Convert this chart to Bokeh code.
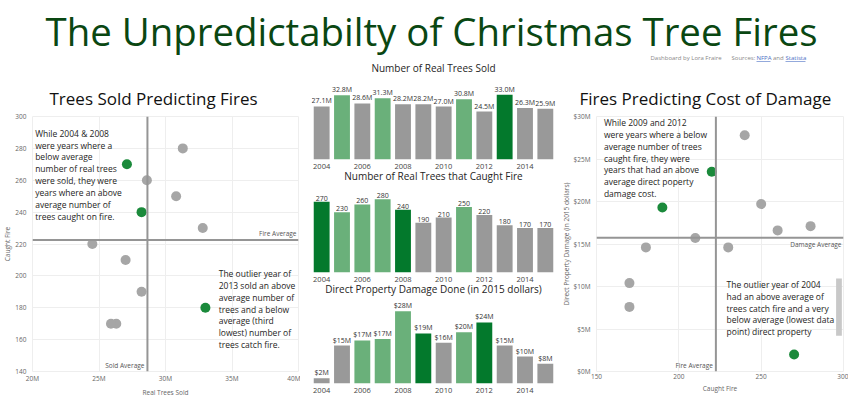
from bokeh.plotting import figure
from bokeh.models import (Range1d, FixedTicker, PrintfTickFormatter, Span, Label,
                          BoxAnnotation, ColumnDataSource)
from bokeh.layouts import column, row
from bokeh.core.properties import value
from bokeh.embed import file_html
from bokeh.resources import INLINE

# ---------------- data ----------------
years = [2004, 2005, 2006, 2007, 2008, 2009, 2010, 2011, 2012, 2013, 2014, 2015]
trees_sold_m = [27.1, 32.8, 28.6, 31.3, 28.2, 28.2, 27.0, 30.8, 24.5, 33.0, 26.3, 25.9]
trees_caught_fire = [270, 230, 260, 280, 240, 190, 210, 250, 220, 180, 170, 170]
damage_m = [2.0, 14.6, 16.6, 17.1, 27.8, 19.3, 15.7, 19.7, 23.5, 14.6, 10.4, 7.6]

sold_bar_shade = ["gray", "light", "gray", "light", "gray", "gray", "gray", "light", "gray", "dark", "gray", "gray"]
fire_bar_shade = ["dark", "light", "light", "light", "dark", "gray", "gray", "light", "gray", "gray", "gray", "gray"]
damage_bar_shade = ["gray", "gray", "light", "light", "light", "dark", "gray", "light", "dark", "gray", "gray", "gray"]

sold_fire_highlight = [2004, 2008, 2013]
fire_damage_highlight = [2004, 2009, 2012]

bar_year_ticks = [2004, 2006, 2008, 2010, 2012, 2014]
sold_ticks = [20, 25, 30, 35, 40]
fire_ticks_left = [140, 160, 180, 200, 220, 240, 260, 280, 300]
fire_ticks_right = [150, 200, 250, 300]
damage_ticks = [0, 5, 10, 15, 20, 25, 30]

# ---------------- style ----------------
FONT = "Open Sans"
GREEN_DARK = "#03792c"
GREEN_LIGHT = "#6ab07a"
GRAY_BAR = "#999999"
GREEN_PT = "#1b8a3b"
GRAY_PT = "#a6a6a6"
TITLE_GREEN = "#0a4712"
TEXT_DARK = "#252423"
AXIS_TXT = "#666666"
AVG_LINE = "#959595"
shade_color = {"dark": GREEN_DARK, "light": GREEN_LIGHT, "gray": GRAY_BAR}

sold_avg = sum(trees_sold_m) / len(trees_sold_m)
fire_avg = sum(trees_caught_fire) / len(trees_caught_fire)
damage_avg = sum(damage_m) / len(damage_m)


def style_axis(ax, size="6.5px", standoff=2, label_standoff=2):
    ax.axis_line_color = None
    ax.major_tick_line_color = None
    ax.minor_tick_line_color = None
    ax.major_tick_out = 0
    ax.major_tick_in = 0
    ax.minor_tick_out = 0
    ax.minor_tick_in = 0
    ax.major_label_text_font = FONT
    ax.major_label_text_font_size = size
    ax.major_label_text_color = AXIS_TXT
    ax.major_label_standoff = standoff
    ax.axis_label_text_font = FONT
    ax.axis_label_text_font_size = "6.5px"
    ax.axis_label_text_font_style = "normal"
    ax.axis_label_text_color = AXIS_TXT
    ax.axis_label_standoff = label_standoff


# ---------------- header ----------------
header = figure(width=848, height=74, x_range=Range1d(0, 848), y_range=Range1d(74, 0),
                output_backend="svg", toolbar_location=None,
                x_axis_location=None, y_axis_location=None, min_border=0)
header.outline_line_color = None
header.grid.visible = False
header.text(x=[431], y=[30], text=["The Unpredictabilty of Christmas Tree Fires"],
            text_font=value(FONT), text_font_size="38.4px", text_color=TITLE_GREEN,
            text_align="center", text_baseline="middle")
header.text(x=[650], y=[57], text=["Dashboard by Lora Fraire"], text_font=value(FONT),
            text_font_size="6px", text_color="#888888", text_baseline="middle")
header.text(x=[731], y=[57], text=["Sources:"], text_font=value(FONT),
            text_font_size="6px", text_color="#888888", text_baseline="middle")
header.text(x=[756, 785], y=[57, 57], text=["NFPA", "Statista"], text_font=value(FONT),
            text_font_size="6px", text_color="#4a6fc4", text_baseline="middle")
header.segment(x0=[756, 785], y0=[61, 61], x1=[770, 805], y1=[61, 61],
               line_color="#4a6fc4", line_width=0.6)
header.text(x=[772.5], y=[57], text=["and"], text_font=value(FONT),
            text_font_size="6px", text_color="#888888", text_baseline="middle")
header.text(x=[433], y=[67], text=["Number of Real Trees Sold"], text_font=value(FONT),
            text_font_size="10px", text_color=TEXT_DARK, text_align="center",
            text_baseline="middle")


# ---------------- bar charts ----------------
def bar_chart(values, labels, shades, height, y_end, next_title=None, bottom=12):
    p = figure(width=258, height=height, x_range=Range1d(2003.5, 2015.5),
               y_range=Range1d(0, y_end), output_backend="svg", toolbar_location=None,
               y_axis_location=None, min_border_left=11, min_border_right=3,
               min_border_top=0, min_border_bottom=bottom)
    p.outline_line_color = None
    p.grid.visible = False
    src = ColumnDataSource(dict(year=years, val=values, lab=labels,
                                col=[shade_color[s] for s in shades]))
    p.vbar(x="year", top="val", width=0.78, fill_color="col", line_color=None, source=src)
    p.text(x="year", y="val", text="lab", source=src, text_font=value(FONT),
           text_font_size="7px", text_color="#333333", text_align="center",
           text_baseline="bottom", y_offset=-1)
    ax = p.xaxis[0]
    ax.ticker = FixedTicker(ticks=bar_year_ticks)
    style_axis(ax, size="7.5px", standoff=4, label_standoff=-3)
    ax.major_label_text_color = "#444444"
    if next_title:
        # the title of the chart below sits directly under this chart's year labels
        ax.axis_label = next_title
        ax.axis_label_text_font_size = "10px"
        ax.axis_label_text_color = TEXT_DARK
    return p


b1 = bar_chart(trees_sold_m, [f"{v:.1f}M" for v in trees_sold_m], sold_bar_shade, 115, 43.4,
               next_title="Number of Real Trees that Caught Fire", bottom=30)
b2 = bar_chart(trees_caught_fire, [str(v) for v in trees_caught_fire], fire_bar_shade, 113, 317,
               next_title="Direct Property Damage Done (in 2015 dollars)", bottom=30)
b3 = bar_chart(damage_m, [f"${v:.0f}M" for v in damage_m], damage_bar_shade, 97, 31.2,
               bottom=16)


# ---------------- scatter helper ----------------
def scatter_fig(width, xr, yr, bl, br, title, title_offset):
    p = figure(width=width, height=325, x_range=Range1d(*xr), y_range=Range1d(*yr),
               output_backend="svg", toolbar_location=None,
               min_border_left=bl, min_border_right=br, min_border_top=42, min_border_bottom=26)
    p.outline_line_color = "#eeeeee"
    p.grid.grid_line_color = "#eeeeee"
    p.grid.grid_line_width = 1
    p.title.text = title
    p.title.text_font = FONT
    p.title.text_font_size = "17px"
    p.title.text_font_style = "normal"
    p.title.text_color = "#111111"
    p.title.align = "left"
    p.title.offset = title_offset
    p.title.standoff = 14
    style_axis(p.xaxis[0])
    style_axis(p.yaxis[0], standoff=6, label_standoff=0)
    return p


def note(p, x, y, text):
    p.add_layout(Label(x=x, y=y, text=text, text_font=FONT, text_font_size="8.5px",
                       text_color=TEXT_DARK, text_baseline="top", text_align="left",
                       text_line_height=1.08))


def avg_label(p, x, y, text, align, baseline, xo, yo):
    p.add_layout(Label(x=x, y=y, text=text, text_font=FONT, text_font_size="6.5px",
                       text_color="#555555", text_align=align, text_baseline=baseline,
                       x_offset=xo, y_offset=yo))


# ---------------- left scatter ----------------
left = scatter_fig(300, (20, 40), (140, 300), 30, 2, "Trees Sold Predicting Fires", 17)
left.xaxis[0].ticker = FixedTicker(ticks=sold_ticks)
left.xaxis[0].formatter = PrintfTickFormatter(format="%dM")
left.yaxis[0].ticker = FixedTicker(ticks=fire_ticks_left)
left.xaxis[0].axis_label = "Real Trees Sold"
left.yaxis[0].axis_label = "Caught Fire"
left.add_layout(Span(location=sold_avg, dimension="height", line_color=AVG_LINE, line_width=2))
left.add_layout(Span(location=fire_avg, dimension="width", line_color=AVG_LINE, line_width=2))
left.scatter(trees_sold_m, trees_caught_fire, size=10, line_color=None,
             fill_color=[GREEN_PT if y in sold_fire_highlight else GRAY_PT for y in years])
avg_label(left, 40, fire_avg, "Fire Average", "right", "bottom", -2, 2)
avg_label(left, sold_avg, 140, "Sold Average", "right", "bottom", -3, 2)
note(left, 20.2, 293, "While 2004 & 2008\nwere years where a\nbelow average\nnumber of real trees\n"
     "were sold, they were\nyears where an above\naverage number of\ntrees caught on fire.")
note(left, 34.0, 205, "The outlier year of\n2013 sold an above\naverage number of\n"
     "trees and a below\naverage (third\nlowest) number of\ntrees catch fire.")

# ---------------- right scatter ----------------
right = scatter_fig(290, (150, 300), (0, 30), 34, 5, "Fires Predicting Cost of Damage", -17)
right.xaxis[0].ticker = FixedTicker(ticks=fire_ticks_right)
right.yaxis[0].ticker = FixedTicker(ticks=damage_ticks)
right.yaxis[0].formatter = PrintfTickFormatter(format="$%dM")
right.xaxis[0].axis_label = "Caught Fire"
right.yaxis[0].axis_label = "Direct Property Damage (in 2015 dollars)"
right.add_layout(Span(location=fire_avg, dimension="height", line_color=AVG_LINE, line_width=2))
right.add_layout(Span(location=damage_avg, dimension="width", line_color=AVG_LINE, line_width=2))
right.scatter(trees_caught_fire, damage_m, size=10, line_color=None,
              fill_color=[GREEN_PT if y in fire_damage_highlight else GRAY_PT for y in years])
avg_label(right, 300, damage_avg, "Damage Average", "right", "top", -2, -2)
avg_label(right, fire_avg, 0, "Fire Average", "right", "bottom", -3, 2)
note(right, 154.5, 29.95, "While 2009 and 2012\nwere years where a below\naverage number of trees\n"
     "caught fire, they were\nyears that had an above\naverage direct poperty\ndamage cost.")
note(right, 229.0, 10.9, "The outlier year of 2004\nhad an above average of\ntrees catch fire and a very\n"
     "below average (lowest data\npoint) direct property")
right.add_layout(BoxAnnotation(left=295.5, right=299.0, bottom=4.2, top=10.95,
                               fill_color="#c8c8c8", fill_alpha=1.0, line_color=None))

layout = column(header, row(left, column(b1, b2, b3), right))

open("out.html", "w").write(file_html(layout, INLINE))
